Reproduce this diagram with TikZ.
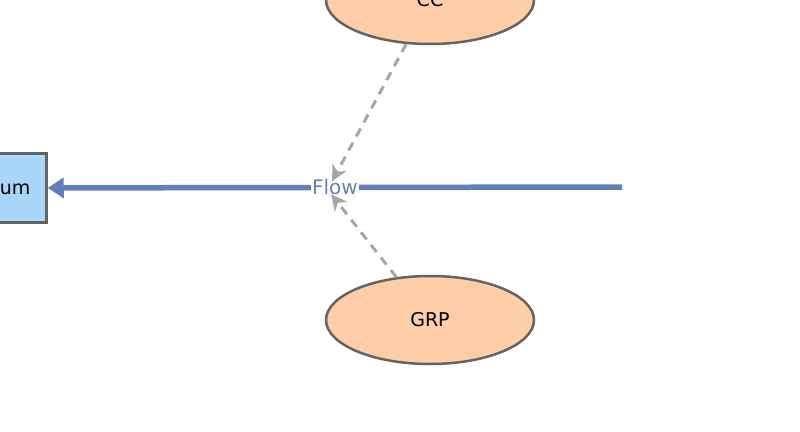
\documentclass[tikz,border=0pt]{standalone}
\usepackage{fontspec}
\setmainfont{DejaVu Sans}
\usetikzlibrary{shapes.geometric, arrows.meta}
\definecolor{cpeach}{RGB}{255,206,168}
\definecolor{cblue}{RGB}{168,214,248}
\definecolor{cflow}{RGB}{100,128,188}
\definecolor{cedge}{RGB}{100,100,100}
\tikzset{
x=1pt, y=-1pt,
Entity/.style={
	draw=cedge, ellipse,
	line width=2.5pt,
	fill=cpeach,
	minimum width=208pt,
	minimum height=88pt,
	font=\fontsize{19}{22}\selectfont
},
Store/.style={
	draw=cedge, rectangle,
	line width=2.5pt,
	fill=cblue,
	minimum width=75pt,
	minimum height=69pt,
	font=\fontsize{19}{22}\selectfont
},
FlowEdge/.style={
	draw=cflow, line width=5.5pt,
	-{Triangle[length=16pt, width=20pt]}
},
Influence/.style={
	draw=gray!70, line width=3pt,
	dash pattern=on 9pt off 7pt,
	shorten >=-6pt,
	-{Stealth[length=16pt, width=16pt]}
}
}

\begin{document}
\begin{tikzpicture}
	\useasboundingbox (0,0) rectangle (800,431);
	\node[Entity] (CC) at (430,0) {CC};
	\node[Entity] (GRP) at (430,320) {GRP};
	\node[Store] (Sum) at (9,188) {Sum};
	\coordinate (src) at (622,187);

	\draw[FlowEdge] (src) -- (Sum)
		node[pos=0.5, fill=white, inner sep=1pt, text=cflow, font=\fontsize{20}{24}\selectfont] (flow) {Flow};

	\draw[Influence] (CC) -- (flow.north);
	\draw[Influence] (GRP) -- (flow.south);
\end{tikzpicture}
\end{document}
